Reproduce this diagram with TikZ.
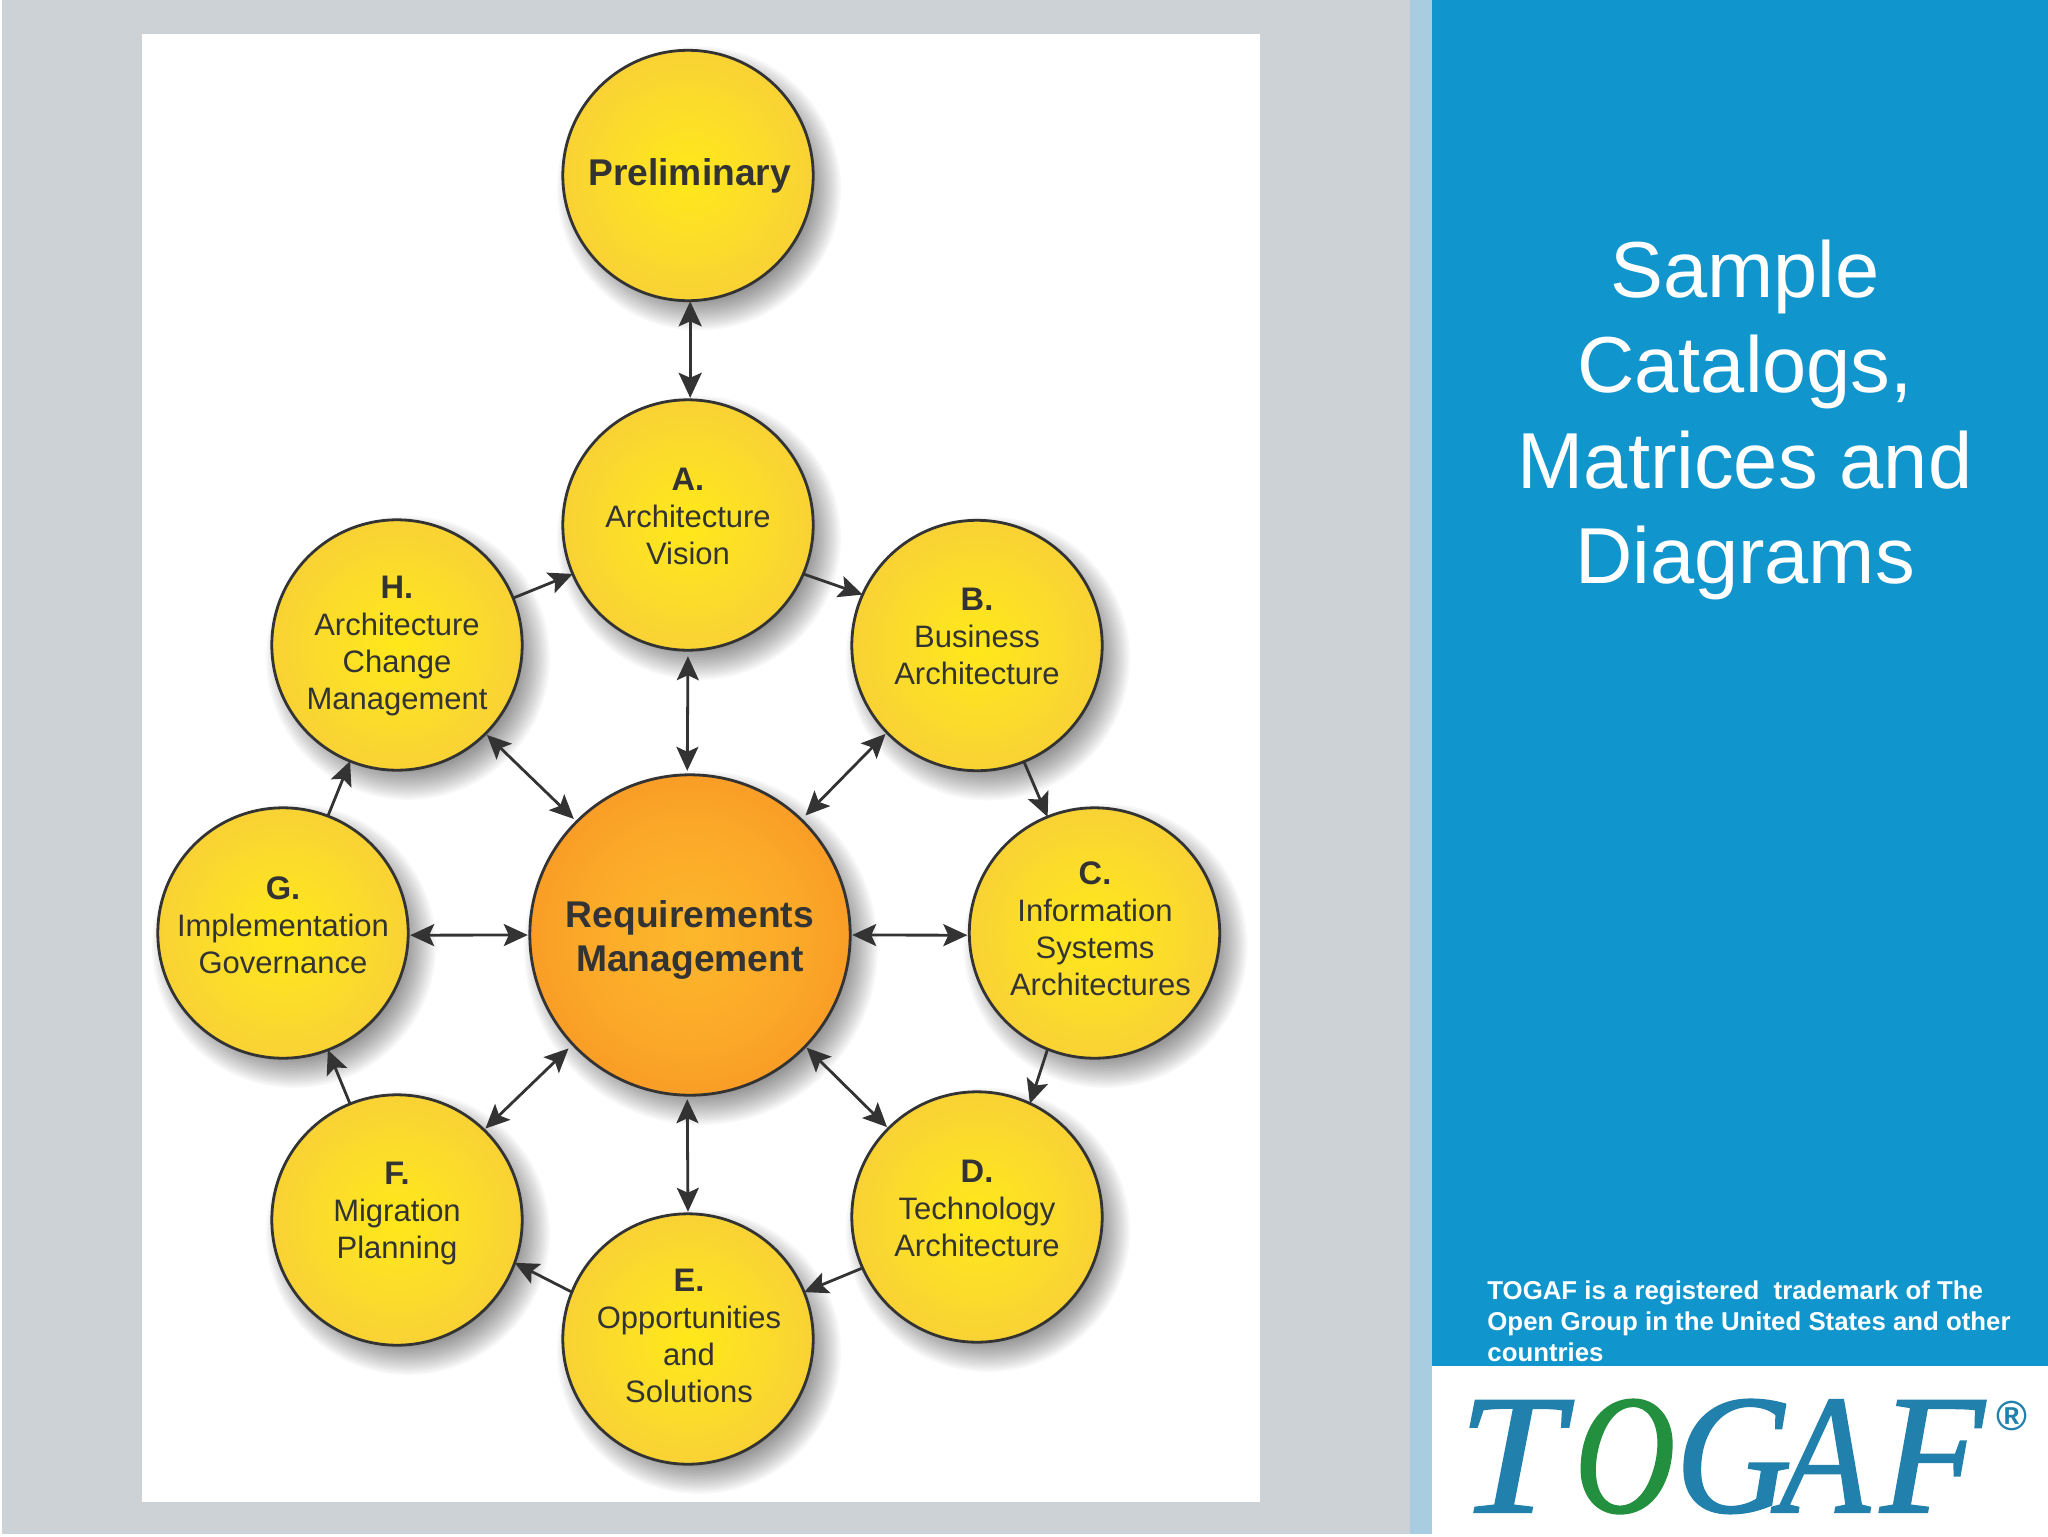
\documentclass[tikz,border=0pt]{standalone}
\usepackage{fontspec}
\usepackage{graphicx}
\setmainfont{Liberation Sans}
\newfontfamily\logofont[ItalicFeatures={FakeBold=1.2}]{Liberation Serif}
\usetikzlibrary{arrows.meta}
\definecolor{ink}{HTML}{333333}
\definecolor{slate}{HTML}{CDD2D6}
\definecolor{band}{HTML}{A8CCE0}
\definecolor{panelblue}{HTML}{1095CC}
\definecolor{logoblue}{HTML}{2181AC}
\definecolor{logogreen}{HTML}{23903F}
\pgfdeclareradialshading{sunball}{\pgfpoint{0bp}{0bp}}{
  rgb(0bp)=(1,0.91,0.10);
  rgb(14bp)=(0.988,0.865,0.165);
  rgb(35.4bp)=(0.96,0.785,0.243);
  rgb(100bp)=(0.96,0.785,0.243)}
\pgfdeclareradialshading{orangeball}{\pgfpoint{0bp}{0bp}}{
  rgb(0bp)=(0.992,0.72,0.17);
  rgb(18bp)=(0.984,0.655,0.157);
  rgb(35.4bp)=(0.965,0.557,0.133);
  rgb(100bp)=(0.965,0.557,0.133)}
\tikzset{
  ball/.style={circle,draw=ink,line width=1.4pt,shading=sunball,inner sep=0pt,outer sep=0pt,minimum size=125.2pt},
  bigball/.style={circle,draw=ink,line width=1.4pt,shading=orangeball,inner sep=0pt,outer sep=0pt,minimum size=160.2pt},
  caption/.style={text=ink,align=center,font=\fontsize{15.5}{18.5}\selectfont,inner sep=0pt},
  boldcaption/.style={text=ink,align=center,font=\fontsize{18.6}{22.2}\selectfont\bfseries,inner sep=0pt},
  flow/.style={draw=ink,line width=1.4pt,-{Stealth[length=12pt,width=11pt,inset=2.5pt]}},
  both/.style={draw=ink,line width=1.4pt,{Stealth[length=12pt,width=11pt,inset=2.5pt]}-{Stealth[length=12pt,width=11pt,inset=2.5pt]}},
  bothbig/.style={draw=ink,line width=1.6pt,{Stealth[length=12.5pt,width=11.5pt,inset=2.5pt]}-{Stealth[length=12.5pt,width=11.5pt,inset=2.5pt]}},
  logoletter/.style={text=logoblue,font=\fontsize{85}{85}\logofont\itshape,inner sep=0pt,anchor=base west},
}
\newcommand{\hd}[1]{{\fontsize{16.3}{18.5}\selectfont\bfseries #1}}
\begin{document}
\begin{tikzpicture}[x=0.5pt,y=-0.5pt]
\useasboundingbox (0,0) rectangle (2048,1536);
\fill[white] (0,0) rectangle (2048,1536);
\fill[slate] (2,0) rectangle (1410,1534);
\fill[band] (1410,0) rectangle (1432,1534);
\fill[panelblue] (1432,0) rectangle (2048,1366);
\fill[white] (142,34) rectangle (1260,1502);
% centres
\foreach \nm/\cx/\cy/\rad in {P/688/175.5/63,A/688/525/63,B/977/645.5/63,C/1094.5/933/63,D/977/1217/63,E/688/1339/63,F/397/1220/63,G/283/933/63,H/397/645/63,R/690/935/80.5}{
  \coordinate (c\nm) at (\cx,\cy);
  \foreach \i in {1,...,16}{
    \fill[black,opacity=.032] ([shift={(11,13)}]c\nm) circle[radius=\rad pt+9pt-1.05pt*\i];
  }
}
\node[ball] (P) at (cP) {};
\node[ball] (A) at (cA) {};
\node[ball] (B) at (cB) {};
\node[ball] (C) at (cC) {};
\node[ball] (D) at (cD) {};
\node[ball] (E) at (cE) {};
\node[ball] (F) at (cF) {};
\node[ball] (G) at (cG) {};
\node[ball] (H) at (cH) {};
\node[bigball] (R) at (cR) {};
% captions
\node[boldcaption] (tP) at (689.6,176) {Preliminary};
\node[caption] (tA) at (688,516) {\hd{A.}\\Architecture\\Vision};
\node[caption] (tB) at (977,636) {\hd{B.}\\Business\\Architecture};
\node[caption] (tC) at (1095,928.5) {\hd{C.}\\Information\\Systems\\\hspace*{5.5pt}Architectures};
\node[caption] (tD) at (977,1208) {\hd{D.}\\Technology\\Architecture};
\node[caption] (tE) at (689,1335.5) {\hd{E.}\\Opportunities\\and\hspace*{5pt}\\Solutions};
\node[caption] (tF) at (397,1213.5) {\hd{F.}\\Migration\\Planning};
\node[caption] (tG) at (283,925) {\hd{G.}\\Implementation\\Governance};
\node[caption] (tH) at (397,646) {\hd{H.}\\Architecture\\Change\\Management};
\node[boldcaption] (tR) at (690,940) {Requirements\\Management};
% connectors
\draw[bothbig,shorten <=0.3pt,shorten >=1pt] (P.-89.5) -- (A.89.5);
\draw[flow,shorten <=0.3pt] (A.-23.1) -- (B.156.9);
\draw[flow,shorten <=0.3pt] (B.-68.7) -- (C.112);
\draw[flow,shorten <=0.3pt] (C.-112.3) -- (D.65.7);
\draw[flow,shorten <=0.3pt] (D.-156.7) -- (E.22.2);
\draw[flow,shorten <=0.3pt] (E.158) -- (F.-20.4);
\draw[flow,shorten <=0.3pt] (F.112) -- (G.-69);
\draw[flow,shorten <=0.3pt] (G.69.8) -- (H.-112);
\draw[flow,shorten <=0.3pt] (H.22.9) -- (A.-157.5);
\draw[both,shorten <=3pt,shorten >=2pt] (A.-90) -- (R.91);
\draw[both,shorten <=1pt,shorten >=3pt] (B.-136) -- (R.46.5);
\draw[both,shorten <=1pt,shorten >=1pt] (C.181) -- (R.0);
\draw[both,shorten <=1pt,shorten >=1pt] (D.135.7) -- (R.-44);
\draw[both,shorten <=1pt,shorten >=2pt] (E.90) -- (R.-91);
\draw[both,shorten <=1pt,shorten >=3pt] (F.46) -- (R.-137.3);
\draw[both,shorten <=1pt,shorten >=1pt] (G.-1) -- (R.180);
\draw[both,shorten <=1pt,shorten >=2pt] (H.-45.5) -- (R.135.7);
% right panel
\node[text=white,align=center,font=\fontsize{39.7}{47.7}\selectfont,inner sep=0pt] (title) at (1745,420) {Sample\\Catalogs,\\Matrices and\\Diagrams};
\node[text=white,align=left,font=\fontsize{12.9}{15.4}\selectfont\bfseries,inner sep=0pt,anchor=north west] (note) at (1487,1280.5) {TOGAF is a registered \ trademark of The\\Open Group in the United States and other\\countries};
% logo
\node[logoletter] (l1) at (1458,1512) {\scalebox{1.1}[1]{T}};
\node[logoletter,text=logogreen] (l2) at (1574,1512) {\scalebox{0.82}[1]{O}};
\node[logoletter] (l3) at (1675,1512) {\scalebox{0.95}[1]{G}};
\node[logoletter] (l4) at (1779,1512) {\scalebox{0.87}[1]{A}};
\node[logoletter] (l5) at (1880,1512) {F};
\node[text=logoblue,font=\fontsize{21}{21}\selectfont\bfseries,inner sep=0pt] (reg) at (2012,1416) {®};
\end{tikzpicture}
\end{document}
